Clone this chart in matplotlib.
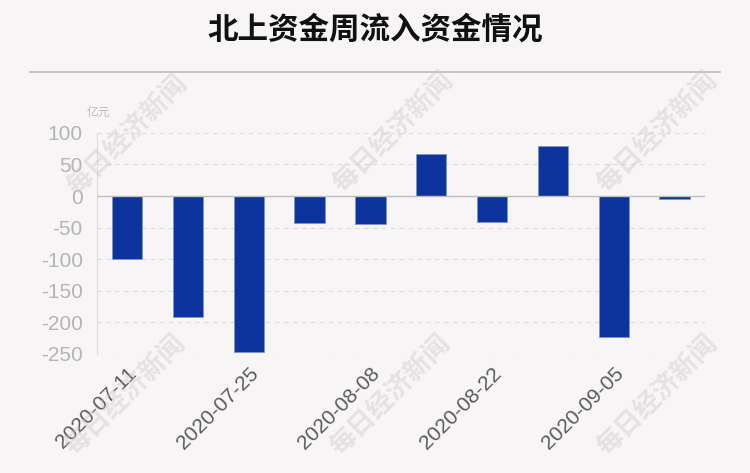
import matplotlib
matplotlib.use("Agg")
import matplotlib.pyplot as plt
import numpy as np

plt.rcParams['font.family'] = ['Noto Sans CJK SC', 'DejaVu Sans']

# 数据
dates = ['2020-07-11', '2020-07-18', '2020-07-25', '2020-08-01', '2020-08-08',
         '2020-08-15', '2020-08-22', '2020-08-29', '2020-09-05', '2020-09-12']
flows = [-100, -192, -247, -43, -44, 67, -41, 79, -224, -5]
yticks = [100, 50, 0, -50, -100, -150, -200, -250]

bg = '#f8f5f6'
fig = plt.figure(figsize=(7.5, 4.73), dpi=100, facecolor=bg)
ax = fig.add_axes([0.129, 0.252, 0.811, 0.467], facecolor=bg)

x = np.arange(len(dates))
ax.bar(x, flows, width=0.5, color='#0c349c', edgecolor='#7f93cc', linewidth=0.6, zorder=3)

ax.set_xlim(-0.5, len(dates) - 0.5)
ax.set_ylim(-250, 100)
ax.set_yticks(yticks)
ax.set_yticklabels([str(v) for v in yticks], color='#b4b4b4', fontsize=15,
                   family=['Liberation Sans', 'DejaVu Sans'])
ax.set_xticks(x[::2])
ax.set_xticklabels(dates[::2], rotation=45, ha='right', rotation_mode='anchor',
                   color='#5a5a5a', fontsize=15, family=['Liberation Sans', 'DejaVu Sans'])
ax.tick_params(axis='y', length=0, pad=10)
ax.tick_params(axis='x', length=0, pad=7)

for v in yticks:
    if v != 0:
        ax.axhline(v, color='#dcdcdc', linestyle=(0, (4, 4)), linewidth=0.8, zorder=1)
ax.axhline(0, color='#bdbdbd', linewidth=1, zorder=4)

for s in ['top', 'right', 'bottom']:
    ax.spines[s].set_visible(False)
ax.spines['left'].set_color('#dddddd')

fig.text(0.5, 0.937, '北上资金周流入资金情况', ha='center', va='center',
         fontsize=22, fontweight='bold', color='#111111')
fig.add_artist(plt.Line2D([0.04, 0.96], [0.848, 0.848], color='#bbbbbb', linewidth=1.2))
fig.text(0.115, 0.763, '亿元', fontsize=8.5, color='#bbbbbb', ha='left', va='center')

# 水印
for (wx, wy) in [(127, 135), (393, 132), (657, 132),
                 (125, 395), (390, 395), (657, 395)]:
    fig.text(wx / 750, 1 - wy / 473, '每日经济新闻', rotation=45, ha='center', va='center',
             fontsize=19, fontweight='bold', color='#c8c5c6', alpha=0.4, zorder=10)

fig.savefig('out.png', dpi=100, facecolor=bg)
